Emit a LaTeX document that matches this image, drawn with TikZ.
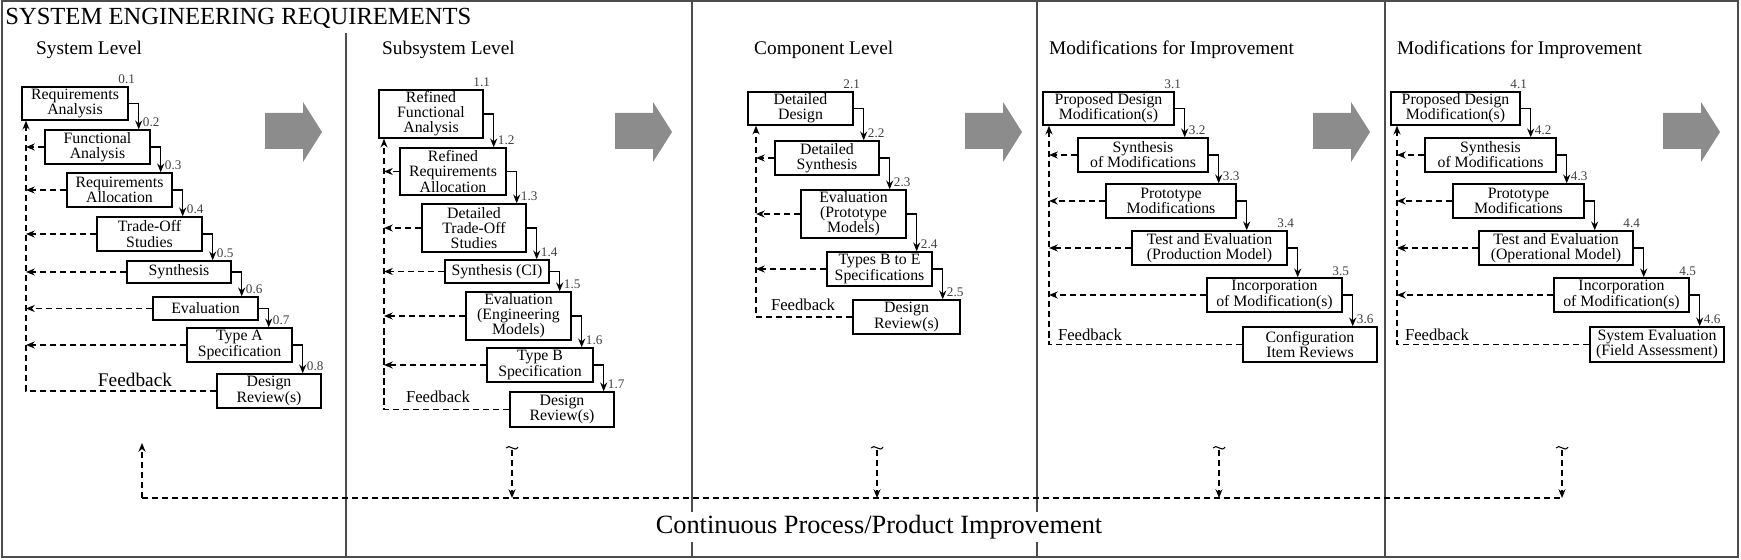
\documentclass[tikz,border=0pt]{standalone}
\usepackage{fontspec}
\setmainfont{Liberation Serif}
\usetikzlibrary{arrows.meta,calc}

\tikzset{
  box/.style={draw,line width=0.8pt,align=center,inner sep=0pt,
    font=\fontsize{9}{8.6}\selectfont},
  num/.style={inner sep=1pt,text=black!75,font=\fontsize{7.5}{8}\selectfont},
  stp/.style={line width=0.8pt,-{Stealth[length=5pt,width=4pt]}},
  fb/.style={line width=0.7pt,dash pattern=on 3.5pt off 2.2pt,-{Stealth[length=5pt,width=4pt]}},
  lvl/.style={anchor=west,font=\fontsize{11}{12}\selectfont},
  fbtext/.style={font=\fontsize{9.5}{10}\selectfont},
  bigarrow/.style={fill=black!45,draw=none}
}
% box from x1,x2,y1,y2 (pixel grid)
\newcommand{\bx}[6]{\node[box,minimum width={(#3-#2)*0.02cm},minimum height={(#5-#4)*0.02cm}]
  (#1) at ({(#2+#3)/2},{(#4+#5)/2}) {#6};}

\begin{document}
\begin{tikzpicture}[x=0.02cm,y=-0.02cm]
\useasboundingbox (0,0) rectangle (1741,560);
% frame and dividers
\draw[line width=0.8pt,black!70] (2,1) rectangle (1738,557);
\draw[line width=0.8pt,black!70] (346,33) -- (346,557);
\foreach \x in {692,1037,1385}
  \draw[line width=0.8pt,black!70] (\x,1) -- (\x,557);
\node[anchor=west,font=\fontsize{14}{15}\selectfont,inner sep=0pt] (title) at (5,18) {SYSTEM ENGINEERING REQUIREMENTS};

% panel titles
\node[lvl] (lv1) at (30,50) {System Level};
\node[lvl] (lv2) at (376,50) {Subsystem Level};
\node[lvl] (lv3) at (748,50) {Component Level};
\node[lvl] (lv4) at (1043,50) {Modifications for Improvement};
\node[lvl] (lv5) at (1391,50) {Modifications for Improvement};

% gray arrows between levels
\foreach \x in {265,615,965,1313,1663}
  \fill[bigarrow] (\x,113) -- (\x+38,113) -- (\x+38,102) -- (\x+57,132)
    -- (\x+38,162) -- (\x+38,149) -- (\x,149) -- cycle;

% system level
\bx{a1}{22}{128}{87}{120}{Requirements\\Analysis}
\bx{a2}{45}{150}{130}{164}{Functional\\Analysis}
\bx{a3}{67}{172}{173}{207}{Requirements\\Allocation}
\bx{a4}{97}{202}{217}{251}{Trade-Off\\Studies}
\bx{a5}{127}{231}{261}{283}{Synthesis}
\bx{a6}{153}{258}{297}{320}{Evaluation}
\bx{a7}{187}{292}{328}{362}{Type A\\Specification}
\bx{a8}{217}{321}{374}{408}{Design\\Review(s)}
\coordinate (fa) at (26,0);
\node[font=\fontsize{11}{12}\selectfont] (fba) at (135,380) {Feedback};

% subsystem level
\bx{b1}{379}{483}{90}{138}{Refined\\Functional\\Analysis}
\bx{b2}{400}{506}{148}{195}{Refined\\Requirements\\Allocation}
\bx{b3}{422}{526}{204}{252}{Detailed\\Trade-Off\\Studies}
\bx{b4}{445}{549}{260}{283}{Synthesis (CI)}
\bx{b5}{466}{571}{292}{340}{Evaluation\\(Engineering\\Models)}
\bx{b6}{487}{593}{348}{382}{Type B\\Specification}
\bx{b7}{510}{614}{392}{427}{Design\\Review(s)}
\coordinate (fb) at (384,0);
\node[fbtext] (fbb) at (438,397) {Feedback};

% component level
\bx{c1}{748}{853}{92}{125}{Detailed\\Design}
\bx{c2}{775}{879}{141}{175}{Detailed\\Synthesis}
\bx{c3}{801}{906}{190}{238}{Evaluation\\(Prototype\\Models)}
\bx{c4}{827}{932}{252}{286}{Types B to E\\Specifications}
\bx{c5}{853}{960}{300}{334}{Design\\Review(s)}
\coordinate (fc) at (756,0);
\node[fbtext] (fbc) at (803,305) {Feedback};

% modifications (production)
\bx{d1}{1043}{1174}{92}{125}{Proposed Design\\Modification(s)}
\bx{d2}{1078}{1208}{138}{172}{Synthesis\\of Modifications}
\bx{d3}{1106}{1236}{184}{218}{Prototype\\Modifications}
\bx{d4}{1132}{1287}{231}{265}{Test and Evaluation\\(Production Model)}
\bx{d5}{1207}{1342}{278}{312}{Incorporation\\of Modification(s)}
\bx{d6}{1243}{1377}{327}{362}{Configuration\\Item Reviews}
\coordinate (fd) at (1049,0);
\node[fbtext] (fbd) at (1090,335) {Feedback};

% modifications (operational)
\bx{e1}{1391}{1520}{92}{125}{Proposed Design\\Modification(s)}
\bx{e2}{1425}{1556}{138}{172}{Synthesis\\of Modifications}
\bx{e3}{1453}{1584}{184}{218}{Prototype\\Modifications}
\bx{e4}{1479}{1633}{231}{265}{Test and Evaluation\\(Operational Model)}
\bx{e5}{1554}{1689}{278}{312}{Incorporation\\of Modification(s)}
\bx{e6}{1590}{1724}{327}{362}{System Evaluation\\(Field Assessment)}
\coordinate (fe) at (1397,0);
\node[fbtext] (fbe) at (1437,335) {Feedback};

% step arrows
\foreach \p/\q/\n in {a1/a2/0.2,a2/a3/0.3,a3/a4/0.4,a4/a5/0.5,a5/a6/0.6,a6/a7/0.7,a7/a8/0.8,
    b1/b2/1.2,b2/b3/1.3,b3/b4/1.4,b4/b5/1.5,b5/b6/1.6,b6/b7/1.7,
    c1/c2/2.2,c2/c3/2.3,c3/c4/2.4,c4/c5/2.5,
    d1/d2/3.2,d2/d3/3.3,d3/d4/,d4/d5/,d5/d6/3.6,
    e1/e2/4.2,e2/e3/4.3,e3/e4/,e4/e5/,e5/e6/4.6}
  \draw[stp] (\p.east) -- ++(10,0) coordinate (t) -- (t |- \q.north)
    node[num,anchor=south west,xshift=1pt] {\n};
\foreach \p/\n in {a1/0.1,b1/1.1,c1/2.1,d1/3.1,e1/4.1,d4/3.4,d5/3.5,e4/4.4,e5/4.5}
  \node[num,anchor=south] at ($(\p.north east)+(-2,0)$) {\n};

% feedback loops
\foreach \f/\b in {fa/a2,fa/a3,fa/a4,fa/a5,fa/a6,fa/a7,
    fb/b2,fb/b3,fb/b4,fb/b5,fb/b6,
    fc/c2,fc/c3,fc/c4,
    fd/d2,fd/d3,fd/d4,fd/d5,
    fe/e2,fe/e3,fe/e4,fe/e5}
  \draw[fb] (\b.west) -- (\f |- \b.west);
\draw[fb] (a8.west) -| (fa |- a1.south);
\draw[fb] (b7.west) -| (fb |- b1.south);
\draw[fb] (c5.west) -| (fc |- c1.south);
\draw[fb] (d6.west) -| (fd |- d1.south);
\draw[fb] (e6.west) -| (fe |- e1.south);

% continuous improvement
\node[fill=white,inner sep=2pt,font=\fontsize{15}{16}\selectfont] (cpi) at (879,527) {Continuous Process/Product Improvement};
\coordinate (ci0) at (142,498);
\coordinate (ci4) at (1562,498);
\draw[fb,-] (ci0) -- (ci4);
\draw[fb] (ci0) -- ++(0,-55);
\foreach \x in {512,877,1219,1562} {
  \coordinate (s) at (\x,450);
  \draw[line width=0.6pt] ($(s)+(-6,-2)$) .. controls ($(s)+(-3,-7)$) and ($(s)+(3,3)$) .. ($(s)+(6,-3)$);
  \draw[fb] (s) -- (s |- ci0);
}
\end{tikzpicture}
\end{document}
